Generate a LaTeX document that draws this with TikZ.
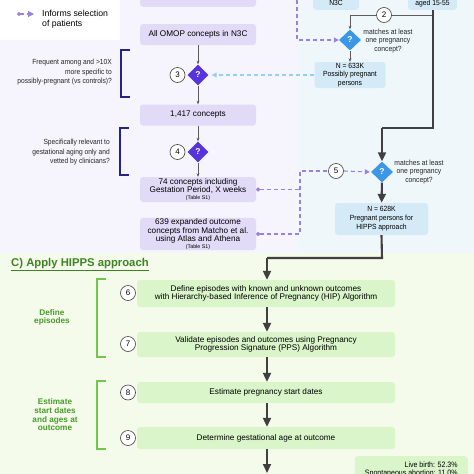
\documentclass[tikz,border=0pt]{standalone}
\usepackage{fontspec}
\setmainfont{Liberation Sans}
\newfontfamily\condfont[FakeStretch=0.9]{Liberation Sans}
\usetikzlibrary{arrows.meta,shapes.geometric,calc}
\definecolor{lavpanel}{HTML}{F6F4FC}
\definecolor{lavboxc}{HTML}{E1DBF8}
\definecolor{bluepanel}{HTML}{EFF7FB}
\definecolor{blueboxc}{HTML}{D4EBF7}
\definecolor{greenpanel}{HTML}{F4FBEA}
\definecolor{greenboxc}{HTML}{D9F5C9}
\definecolor{qdarkc}{HTML}{5534DD}
\definecolor{qlightc}{HTML}{3C97E6}
\definecolor{navyc}{HTML}{23238A}
\definecolor{gbracket}{HTML}{72C64F}
\definecolor{gtext}{HTML}{4A9A2B}
\definecolor{purpled}{HTML}{9A80E2}
\definecolor{lbdash}{HTML}{93D2EE}
\definecolor{darkline}{HTML}{404040}
\newcommand{\boxfont}{\fontsize{8.2}{8.3}\selectfont}
\newcommand{\smallfont}{\condfont\fontsize{7.5}{8.6}\selectfont}
\newcommand{\tablefont}{\fontsize{5.3}{6}\selectfont}
\begin{document}
\begin{tikzpicture}[x=1pt,y=-1pt,
  lavbox/.style={fill=lavboxc, rounded corners=3pt, minimum width=116pt, align=center, inner sep=1pt, font=\boxfont},
  bluebox/.style={fill=blueboxc, rounded corners=3pt, align=center, inner sep=1pt, font=\smallfont},
  greenbox/.style={fill=greenboxc, rounded corners=3pt, minimum width=258pt, align=center, inner sep=1pt, font=\fontsize{8.2}{8.6}\selectfont},
  stepnum/.style={circle, draw=darkline, line width=0.6pt, fill=white, minimum size=15pt, inner sep=0pt, font=\fontsize{8}{8}\selectfont},
  qdark/.style={diamond, fill=qdarkc, text=white, minimum width=21pt, minimum height=21pt, inner sep=0pt, font=\bfseries\fontsize{8.5}{8.5}\selectfont},
  qlight/.style={diamond, fill=qlightc, text=white, minimum width=22pt, minimum height=21pt, inner sep=0pt, font=\bfseries\fontsize{8.5}{8.5}\selectfont},
  thinarrow/.style={draw=darkline!85, line width=0.5pt, -{Stealth[length=3.5pt,width=3pt]}},
  thickarrow/.style={draw=darkline, line width=2.1pt, -{Triangle[length=9pt,width=8pt]}},
  thickline/.style={draw=darkline, line width=2.1pt},
  pdash/.style={draw=purpled, line width=1.1pt, dash pattern=on 4pt off 3pt},
  ptip/.style={-{Triangle[length=5pt,width=5pt]}},
  bdash/.style={draw=lbdash, line width=1.1pt, dash pattern=on 4pt off 3pt, -{Triangle[length=5pt,width=5pt]}, shorten >=3pt},
  navybr/.style={draw=navyc, line width=1.4pt},
  greenbr/.style={draw=gbracket, line width=1.4pt},
  brtext/.style={align=right, font=\condfont\fontsize{7.4}{9.5}\selectfont, text=black!85, inner sep=0pt},
  qtext/.style={align=center, font=\condfont\fontsize{7.5}{8.6}\selectfont, text=black!85, inner sep=0pt},
  glabel/.style={align=center, text=gtext, font=\bfseries\fontsize{8.2}{8.7}\selectfont, inner sep=0pt}
]
\clip (0,0) rectangle (474,474);
% panels
\fill[lavpanel] (0,0) rectangle (298,253);
\fill[white] (0,0) rectangle (120,40);
\fill[bluepanel] (298,0) rectangle (474,253);
\fill[greenpanel] (0,253) rectangle (474,474);

% legend
\coordinate (lg1) at (17,14);
\coordinate (lg2) at (34,14);
\draw[pdash, {Circle[length=4pt]}-{Triangle[length=6pt,width=6pt]}] (lg1) -- (lg2);
\node[anchor=west, align=left, inner sep=0pt, font=\fontsize{8.7}{10}\selectfont] (legend) at (42,19.5) {Informs selection\\of patients};

% left (lavender) column
\node[lavbox, minimum height=20pt, anchor=south] (topbox) at (198,7) {};
\node[lavbox, minimum height=21pt] (omop) at (198,34.5) {All OMOP concepts in N3C};
\node[qdark] (q3) at (198,75) {?};
\node[stepnum] (c3) at (177.5,75) {3};
\node[lavbox, minimum height=21pt] (c1417) at (198,115) {1,417 concepts};
\node[qdark] (q4) at (198,152) {?};
\node[stepnum] (c4) at (177.5,152) {4};
\node[lavbox, minimum height=25pt] (c74) at (198,189.5) {74 concepts including\\Gestation Period, X weeks\\[-1.5pt]{\tablefont (Table S1)}};
\node[lavbox, minimum height=32pt] (c639) at (198,234) {639 expanded outcome\\concepts from Matcho et al.\\using Atlas and Athena\\[-1.5pt]{\tablefont (Table S1)}};

\draw[thinarrow] (omop) -- (q3);
\draw[thinarrow] (q3) -- (c1417);
\draw[thinarrow] (c1417) -- (q4);
\draw[thinarrow] (q4) -- (c74);

% brackets and questions
\draw[navybr] (130,50) -- (121,50) -- (121,97) -- (130,97);
\draw[navybr] (129,128) -- (120,128) -- (120,175) -- (129,175);
\node[brtext, anchor=east] (crit3) at (112,72.5) {Frequent among and >10X\\more specific to\\possibly-pregnant (vs controls)?};
\node[brtext, anchor=east] (crit4) at (110,152.5) {Specifically relevant to\\gestational aging only and\\vetted by clinicians?};

% right (blue) column
\node[bluebox, anchor=south, minimum width=46pt, text height=14pt, text depth=0pt, inner ysep=4pt] (n3c) at (336,10) {N3C};
\node[bluebox, anchor=south, minimum width=49pt, text height=14pt, text depth=0pt, inner ysep=4pt] (aged) at (432.5,10) {aged 15-55};
\coordinate (j2) at (433,15);
\coordinate (j2b) at (350,15);
\node[qlight] (q1) at (350,40) {?};
\node[qtext] (t1) at (388,41) {matches at least\\one pregnancy\\concept?};
\node[bluebox, minimum width=71pt, minimum height=26pt] (b633) at (350,75) {N = 633K\\Possibly pregnant\\persons};
\draw[thinarrow, -] (j2) -- (j2b);
\draw[thinarrow] (j2b) -- (q1);
\node[stepnum] (c2) at (384,15) {2};
\draw[thinarrow] (q1) -- (b633);

\coordinate (k1) at (433,128);
\coordinate (k2) at (382,128);
\node[qlight] (q5) at (382,172) {?};
\node[qtext] (t5) at (419,172) {matches at least\\one pregnancy\\concept?};
\node[bluebox, minimum width=93pt, minimum height=32pt, font=\condfont\fontsize{7.5}{9}\selectfont] (b628) at (381.5,219) {N = 628K\\Pregnant persons for\\HIPPS approach};
\draw[thickline] (aged.south -| j2) -- (k1) -- (k2);
\draw[thickarrow] (k2) -- (q5);
\draw[thickarrow] (q5) -- (b628);

% dashed connectors
\coordinate (ptop) at (297,0);
\coordinate (pcorner) at (297,40);
\draw[pdash, ptip] (ptop) -- (pcorner) -- (q1.west);
\draw[bdash] (b633.west) -- (q3.east);
\coordinate (m74) at (300,189.5);
\coordinate (m639) at (300,234);
\coordinate (m5) at (300,171);
\node[stepnum] (c5) at (336,171) {5};
\draw[pdash, {Circle[length=4pt]}-] (c74.east) -- (m74);
\draw[pdash, {Circle[length=4pt]}-] (c639.east) -- (m639) -- (m5) -- (c5.west);
\draw[pdash, ptip, shorten >=1pt] (c5.east) -- (q5.west);

% green section
\node[anchor=west, inner sep=0pt, text=gtext!85!black, font=\bfseries\fontsize{11.3}{12}\selectfont] (title) at (11,265) {\underline{C) Apply HIPPS approach}};
\node[greenbox, minimum height=27pt] (g6) at (266,293.5) {Define episodes with known and unknown outcomes\\with Hierarchy-based Inference of Pregnancy (HIP) Algorithm};
\node[greenbox, minimum height=25pt] (g7) at (266,344.5) {Validate episodes and outcomes using Pregnancy\\Progression Signature (PPS) Algorithm};
\node[greenbox, minimum height=21pt] (g8) at (266,392.5) {Estimate pregnancy start dates};
\node[greenbox, minimum height=22pt] (g9) at (266,438) {Determine gestational age at outcome};
\node[stepnum] (c6) at (128,293) {6};
\node[stepnum] (c7) at (128,344) {7};
\node[stepnum] (c8) at (128,392.5) {8};
\node[stepnum] (c9) at (128,438) {9};

\coordinate (h1) at (382,258);
\coordinate (h2) at (267,258);
\coordinate (gend) at (267,473);
\draw[thickline] (b628.south) -- (h1) -- (h2);
\draw[thickarrow] (h2) -- (h2 |- g6.north);
\draw[thickarrow] (g6.south -| h2) -- (g7.north -| h2);
\draw[thickarrow] (g7.south -| h2) -- (g8.north -| h2);
\draw[thickarrow] (g8.south -| h2) -- (g9.north -| h2);
\draw[thickarrow] (g9.south -| h2) -- (gend);

\draw[greenbr] (106,279) -- (97,279) -- (97,357) -- (106,357);
\draw[greenbr] (106,381) -- (97,381) -- (97,449) -- (106,449);
\node[glabel] (deflab) at (52,317.5) {Define\\episodes};
\node[glabel] (estlab) at (55,415) {Estimate\\start dates\\and ages at\\outcome};

\node[greenbox, minimum width=113pt, anchor=north east, align=right, inner xsep=5pt, inner ysep=6pt, font=\condfont\fontsize{7.8}{8}\selectfont] (res) at (468,456) {Live birth: 52.3\%\\Spontaneous abortion: 11.0\%\\};
\end{tikzpicture}
\end{document}
